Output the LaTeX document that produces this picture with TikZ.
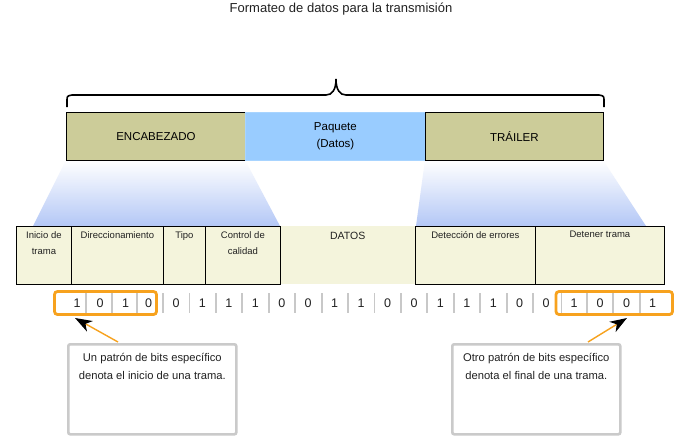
\documentclass[tikz,border=0pt]{standalone}
\usepackage{fontspec}
\setmainfont{Liberation Sans}
\usetikzlibrary{arrows.meta}
\definecolor{hdrolive}{HTML}{CCCC99}
\definecolor{pktblue}{HTML}{99CCFF}
\definecolor{cellcream}{HTML}{F4F4DC}
\definecolor{gradblue}{HTML}{B3C7F6}
\definecolor{sepgrey}{HTML}{C8C8C8}
\definecolor{bitorange}{HTML}{F7A21E}
\definecolor{callgrey}{HTML}{CACACA}
\definecolor{txtgrey}{HTML}{222222}
\tikzset{
  hdrbox/.style={draw=black, line width=0.8pt, fill=hdrolive, inner sep=0pt, font=\fontsize{11.5}{17}\selectfont, align=center},
  pktbox/.style={draw=pktblue!85!white, line width=0.8pt, fill=pktblue, inner sep=0pt, font=\fontsize{11.5}{17}\selectfont, align=center},
  cellbox/.style={draw=black, line width=0.8pt, fill=cellcream, inner sep=0pt, anchor=north west, minimum height=58pt},
  celltxt/.style={anchor=north, inner sep=0pt, font=\fontsize{9.5}{16}\selectfont, align=center, text=txtgrey},
  bittxt/.style={inner sep=0pt, font=\fontsize{12.5}{14}\selectfont, text=txtgrey},
  bitsep/.style={draw=sepgrey, line width=1.8pt},
  bitframe/.style={draw=bitorange, line width=2.8pt, rounded corners=3pt},
  callbox/.style={draw=callgrey, line width=2.6pt, fill=white, rounded corners=2pt, anchor=north west, minimum width=168pt, minimum height=90pt},
  calltxt/.style={anchor=north, inner sep=0pt, font=\fontsize{11.2}{18}\selectfont, align=center, text=txtgrey},
  pointer/.style={draw=bitorange, line width=1.4pt, -{Stealth[color=black, fill=black, length=17pt, width=12pt, inset=5pt]}},
  bracestyle/.style={draw=black, line width=1.6pt},
}
\begin{document}
\begin{tikzpicture}[x=1pt,y=-1pt]
\useasboundingbox[fill=white] (0,0) rectangle (680,442);

% title
\node[inner sep=0pt, font=\fontsize{13}{15}\selectfont, text=txtgrey] (title) at (341,9) {Formateo de datos para la transmisión};

% brace
\draw[bracestyle] (67,107) -- (67,101) .. controls (67,96) .. (72,95) -- (326,95)
  .. controls (332,95) and (336,90) .. (336,79)
  .. controls (336,90) and (340,95) .. (346,95) -- (599,95)
  .. controls (604,96) .. (604,101) -- (604,107);

% gradient trapezoids (white at top, blue at bottom)
\begin{scope}
  \clip (66,160) -- (245,160) -- (280,226) -- (33,226) -- cycle;
  \foreach \k in {0,...,66} {
    \pgfmathtruncatemacro{\pct}{100*\k/66}
    \fill[gradblue!\pct!white] (30,{160+\k}) rectangle (285,{161.2+\k});
  }
\end{scope}
\begin{scope}
  \clip (425,160) -- (603,160) -- (646,226) -- (416,226) -- cycle;
  \foreach \k in {0,...,66} {
    \pgfmathtruncatemacro{\pct}{100*\k/66}
    \fill[gradblue!\pct!white] (410,{160+\k}) rectangle (650,{161.2+\k});
  }
\end{scope}

% header row
\node[hdrbox, anchor=north west, minimum width=179pt, minimum height=48pt] (enc) at (66,112) {ENCABEZADO};
\node[pktbox, anchor=north west, minimum width=180pt, minimum height=48pt] (pkt) at (245,112) {Paquete\\(Datos)};
\node[hdrbox, anchor=north west, minimum width=178pt, minimum height=48pt] (trl) at (425,112) {TRÁILER};

% frame cells
\node[fill=cellcream, inner sep=0pt, anchor=north west, minimum width=135pt, minimum height=58pt] (datos) at (280,226) {};
\node[cellbox, minimum width=55pt] (c1) at (16,226) {};
\node[cellbox, minimum width=92pt] (c2) at (71,226) {};
\node[cellbox, minimum width=42pt] (c3) at (163,226) {};
\node[cellbox, minimum width=75pt] (c4) at (205,226) {};
\node[cellbox, minimum width=120pt] (c5) at (415,226) {};
\node[cellbox, minimum width=129pt] (c6) at (535,226) {};

\node[celltxt] (t1) at ([yshift=-5pt]c1.north) {Inicio de\\trama};
\node[celltxt] (t2) at ([yshift=-5pt]c2.north) {Direccionamiento};
\node[celltxt] (t3) at ([yshift=-5pt]c3.north) {Tipo};
\node[celltxt] (t4) at ([yshift=-5pt]c4.north) {Control de\\calidad};
\node[celltxt, font=\fontsize{10.5}{16}\selectfont] (t0) at ([yshift=-6pt]datos.north) {DATOS};
\node[celltxt] (t5) at ([yshift=-5pt]c5.north) {Detección de errores};
\node[celltxt] (t6) at ([yshift=-5pt]c6.north) {Detener trama};

% bits
\foreach \b/\x [count=\i from 0] in {1/77,0/100,1/125.5,0/148.5,
  0/176,1/202.4,1/228.9,1/255.3,0/281.8,0/308.2,1/334.6,1/361.1,0/387.5,0/414,1/440.4,1/466.8,1/493.3,0/519.7,0/546.2,
  1/574,0/600,0/626.5,1/652.7} {
  \node[bittxt] (b\i) at (\x,303) {\b};
}
\foreach \x in {86,112,137,163,189.4,215.9,242.3,268.7,295.2,321.6,348,374.4,400.9,427.3,453.7,480.2,506.6,533,561.5,587,613.3,640} {
  \draw[bitsep] (\x,293) -- (\x,313);
}
\draw[bitframe] (54.5,291.5) rectangle (156.5,314.5);
\draw[bitframe] (556,291.5) rectangle (672.5,314.5);

% callouts
\node[callbox] (callL) at (67,343) {};
\node[calltxt] (callLt) at ([yshift=-10pt]callL.north) {Un patrón de bits específico\\denota el inicio de una trama.};
\node[callbox] (callR) at (451,343) {};
\node[calltxt] (callRt) at ([yshift=-10pt]callR.north) {Otro patrón de bits específico\\denota el final de una trama.};

\coordinate (startL) at (118,342);
\coordinate (tipL) at (75,318);
\coordinate (startR) at (588,342);
\coordinate (tipR) at (627,318);
\draw[pointer] (startL) -- (tipL);
\draw[pointer] (startR) -- (tipR);
\end{tikzpicture}
\end{document}
